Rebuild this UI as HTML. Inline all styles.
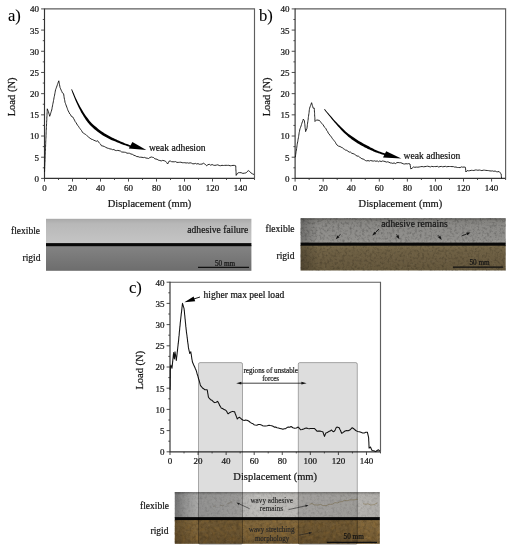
<!DOCTYPE html>
<html lang="en"><head><meta charset="utf-8"><title>Peel load vs displacement</title>
<style>
html,body{margin:0;padding:0;background:#fff;}
body{width:511px;height:550px;overflow:hidden;}
svg{display:block;}
text{font-family:"Liberation Serif",serif;fill:#161616;stroke:#161616;stroke-width:0.22px;}
.tk{font-size:9px;}
.al{font-size:10.5px;}
.an{font-size:9.6px;}
.pl{font-size:16.6px;fill:#000;stroke-width:0.1px;}
.sl{font-size:9.5px;}
.sb{font-size:7.2px;}
.sm{font-size:8.4px;fill:#262626;stroke:#262626;stroke-width:0.15px;}
.sr{font-size:8.8px;}
.st{fill:#1a1a1a;}
</style></head><body>
<svg width="511" height="550" viewBox="0 0 511 550">
<defs>
<filter id="nzD" x="0" y="0" width="100%" height="100%" color-interpolation-filters="sRGB"><feTurbulence type="fractalNoise" baseFrequency="0.4" numOctaves="3" seed="3"/><feColorMatrix type="matrix" values="0 0 0 0 0  0 0 0 0 0  0 0 0 0 0  1.6 0 0 0 -0.72"/></filter>
<filter id="nzL" x="0" y="0" width="100%" height="100%" color-interpolation-filters="sRGB"><feTurbulence type="fractalNoise" baseFrequency="0.3" numOctaves="3" seed="11"/><feColorMatrix type="matrix" values="0 0 0 0 1  0 0 0 0 1  0 0 0 0 1  -1.6 0 0 0 0.68"/></filter>
<filter id="nzO" x="0" y="0" width="100%" height="100%" color-interpolation-filters="sRGB"><feTurbulence type="fractalNoise" baseFrequency="0.22" numOctaves="4" seed="8"/><feColorMatrix type="matrix" values="0 0 0 0 0.80  0 0 0 0 0.56  0 0 0 0 0.18  2.2 0 0 0 -0.95"/></filter>
<filter id="nzK" x="0" y="0" width="100%" height="100%" color-interpolation-filters="sRGB"><feTurbulence type="fractalNoise" baseFrequency="0.3" numOctaves="4" seed="21"/><feColorMatrix type="matrix" values="0 0 0 0 0.18  0 0 0 0 0.13  0 0 0 0 0.06  0 2.2 0 0 -0.95"/></filter>
<linearGradient id="gaU" x1="0" y1="0" x2="0" y2="1"><stop offset="0" stop-color="#a9a9a9"/><stop offset="0.2" stop-color="#b8b8b8"/><stop offset="1" stop-color="#c5c5c5"/></linearGradient>
<linearGradient id="gaL" x1="0" y1="0" x2="0" y2="1"><stop offset="0" stop-color="#848484"/><stop offset="1" stop-color="#6d6d6d"/></linearGradient>
<linearGradient id="gbU" x1="0" y1="0" x2="0" y2="1"><stop offset="0" stop-color="#7c7b77"/><stop offset="0.3" stop-color="#8b8a87"/><stop offset="0.85" stop-color="#908f8c"/><stop offset="1" stop-color="#a09e99"/></linearGradient>
<linearGradient id="gbL" x1="0" y1="0" x2="0" y2="1"><stop offset="0" stop-color="#7a6b4a"/><stop offset="0.25" stop-color="#6e6044"/><stop offset="1" stop-color="#64573c"/></linearGradient>
<linearGradient id="gcU" x1="0" y1="0" x2="1" y2="0"><stop offset="0" stop-color="#929292"/><stop offset="0.05" stop-color="#a4a4a3"/><stop offset="0.3" stop-color="#b0afad"/><stop offset="0.4" stop-color="#bcbbb8"/><stop offset="0.6" stop-color="#bab8b5"/><stop offset="0.88" stop-color="#b5b3af"/><stop offset="1" stop-color="#aeaca8"/></linearGradient>
<linearGradient id="gcL" x1="0" y1="0" x2="0" y2="1"><stop offset="0" stop-color="#7f663c"/><stop offset="0.6" stop-color="#785f37"/><stop offset="1" stop-color="#6b5531"/></linearGradient>
<linearGradient id="gTop" x1="0" y1="0" x2="0" y2="1"><stop offset="0" stop-color="#000" stop-opacity="0.28"/><stop offset="1" stop-color="#000" stop-opacity="0"/></linearGradient>
<linearGradient id="gLeft" x1="0" y1="0" x2="1" y2="0"><stop offset="0" stop-color="#000" stop-opacity="0.22"/><stop offset="1" stop-color="#000" stop-opacity="0"/></linearGradient>
</defs>
<rect width="511" height="550" fill="#fff"/>

<g id="panelA">
<path d="M44.5,8.9 H254.5 V178.4" fill="none" stroke="#5e5e5e" stroke-width="1.15"/>
<path d="M44.5,8.4 V178.4 H254.5" fill="none" stroke="#333" stroke-width="1.15"/>
<path d="M44.50,178.4 v3.2 M58.50,178.4 v1.6 M72.50,178.4 v3.2 M86.50,178.4 v1.6 M100.50,178.4 v3.2 M114.50,178.4 v1.6 M128.50,178.4 v3.2 M142.50,178.4 v1.6 M156.50,178.4 v3.2 M170.50,178.4 v1.6 M184.50,178.4 v3.2 M198.50,178.4 v1.6 M212.50,178.4 v3.2 M226.50,178.4 v1.6 M240.50,178.4 v3.2 M254.50,178.4 v1.6 M44.5,178.40 h-3.4 M44.5,167.81 h-1.7 M44.5,157.21 h-3.4 M44.5,146.62 h-1.7 M44.5,136.03 h-3.4 M44.5,125.43 h-1.7 M44.5,114.84 h-3.4 M44.5,104.24 h-1.7 M44.5,93.65 h-3.4 M44.5,83.06 h-1.7 M44.5,72.46 h-3.4 M44.5,61.87 h-1.7 M44.5,51.28 h-3.4 M44.5,40.68 h-1.7 M44.5,30.09 h-3.4 M44.5,19.49 h-1.7 M44.5,8.90 h-3.4" stroke="#3a3a3a" stroke-width="0.9" fill="none"/>
<text x="44.5" y="190.6" text-anchor="middle" class="tk">0</text>
<text x="72.5" y="190.6" text-anchor="middle" class="tk">20</text>
<text x="100.5" y="190.6" text-anchor="middle" class="tk">40</text>
<text x="128.5" y="190.6" text-anchor="middle" class="tk">60</text>
<text x="156.5" y="190.6" text-anchor="middle" class="tk">80</text>
<text x="184.5" y="190.6" text-anchor="middle" class="tk">100</text>
<text x="212.5" y="190.6" text-anchor="middle" class="tk">120</text>
<text x="240.5" y="190.6" text-anchor="middle" class="tk">140</text>
<text x="38.9" y="181.8" text-anchor="end" class="tk">0</text>
<text x="38.9" y="160.6" text-anchor="end" class="tk">5</text>
<text x="38.9" y="139.4" text-anchor="end" class="tk">10</text>
<text x="38.9" y="118.2" text-anchor="end" class="tk">15</text>
<text x="38.9" y="97.1" text-anchor="end" class="tk">20</text>
<text x="38.9" y="75.9" text-anchor="end" class="tk">25</text>
<text x="38.9" y="54.7" text-anchor="end" class="tk">30</text>
<text x="38.9" y="33.5" text-anchor="end" class="tk">35</text>
<text x="38.9" y="12.3" text-anchor="end" class="tk">40</text>
<text x="149.5" y="207.0" text-anchor="middle" class="al">Displacement (mm)</text>
<text transform="translate(15.4,96.9) rotate(-90)" text-anchor="middle" class="al">Load (N)</text>
<polyline points="44.5,172.0 44.6,170.6 44.6,169.2 44.7,167.9 44.7,166.5 44.8,165.1 44.8,163.8 44.9,162.4 45.0,161.0 45.0,159.6 45.1,158.2 45.1,156.9 45.2,155.5 45.2,154.1 45.3,152.8 45.3,151.4 45.4,150.0 45.5,148.7 45.5,147.4 45.6,146.1 45.6,144.8 45.7,143.4 45.7,142.1 45.8,140.8 45.8,139.5 45.9,138.2 46.0,136.9 46.0,135.6 46.1,134.2 46.1,132.9 46.2,131.6 46.2,130.3 46.3,129.0 46.4,127.7 46.4,126.3 46.5,125.0 46.6,123.6 46.6,122.3 46.7,120.9 46.8,119.6 46.8,118.2 46.9,116.9 47.0,115.5 47.0,114.2 47.1,112.8 47.2,111.5 47.2,110.1 47.3,108.8 47.8,110.2 48.4,111.5 48.8,113.1 49.3,114.7 49.7,116.3 50.1,115.0 50.5,113.8 50.9,112.5 51.3,111.3 51.7,110.0 52.0,108.6 52.2,107.3 52.5,105.9 52.7,104.6 53.0,103.2 53.3,101.9 53.5,100.5 53.8,99.2 54.0,97.8 54.3,96.5 54.6,95.1 54.8,93.8 55.1,92.4 55.3,91.1 55.6,89.7 56.1,88.4 56.5,87.2 57.0,85.9 57.4,84.6 57.9,83.3 58.3,82.1 58.8,80.8 59.0,82.1 59.3,83.4 59.5,84.8 59.8,86.1 60.0,87.4 60.6,88.8 61.2,90.2 61.8,91.5 62.4,92.9 63.5,93.6 63.8,95.0 64.0,96.5 64.2,97.9 64.5,99.4 64.8,100.8 65.0,102.3 65.5,103.5 65.9,104.8 66.4,106.0 66.8,107.2 67.3,108.4 67.7,109.7 68.2,110.9 69.0,112.3 69.8,114.0 70.5,114.5 71.3,116.3 72.9,117.1 73.7,118.7 74.5,120.1 75.2,121.6 76.0,122.6 76.8,124.0 77.6,125.3 78.4,126.2 79.2,127.5 80.0,128.6 80.8,129.7 81.5,130.5 82.3,132.0 83.4,133.2 84.5,133.8 85.6,134.4 86.7,135.5 87.8,136.4 88.8,137.3 89.9,138.0 90.9,139.0 92.3,139.4 93.8,140.2 95.2,140.8 96.6,141.3 97.6,140.7 98.6,142.1 99.5,143.2 100.5,144.1 101.5,145.8 102.9,146.0 104.3,146.5 105.7,147.3 107.1,148.0 108.5,148.4 109.9,148.9 111.3,149.1 112.6,149.7 113.9,149.5 115.2,150.4 116.5,150.6 117.8,150.4 119.1,150.7 120.4,151.0 121.7,152.0 123.0,152.1 124.3,152.2 125.6,152.4 127.0,153.2 128.3,153.2 129.6,153.3 130.9,154.0 132.4,154.3 133.9,155.3 135.3,155.7 136.8,156.6 138.1,156.6 139.4,157.2 140.7,157.2 142.0,157.3 143.3,157.6 144.6,157.4 145.9,158.0 147.2,158.2 148.5,158.5 149.9,157.5 151.4,157.0 152.4,157.3 153.6,157.5 154.8,158.8 155.9,159.0 157.1,159.3 158.3,160.1 159.8,160.5 161.3,160.9 162.7,160.4 164.2,160.7 165.7,161.4 166.6,162.4 167.6,164.0 168.3,162.8 169.0,161.2 170.3,161.0 171.6,161.7 173.0,161.8 174.3,161.8 175.6,161.6 176.9,162.4 178.2,162.4 179.5,162.3 180.9,162.2 182.2,162.7 183.5,162.7 184.8,162.7 186.1,163.0 187.5,162.8 188.8,163.2 190.1,162.8 191.4,163.1 192.8,163.8 194.1,163.8 195.4,163.4 196.7,164.0 198.0,163.6 199.4,164.3 200.7,164.2 202.0,164.1 203.7,163.2 204.7,164.0 205.7,164.7 206.7,165.8 207.9,164.7 209.3,164.3 210.7,165.2 212.1,164.5 213.5,165.2 214.9,165.4 216.4,165.1 217.8,164.8 219.2,165.5 220.6,165.7 222.0,165.3 223.4,165.5 224.7,165.4 226.1,165.3 227.5,165.4 228.8,165.3 230.2,165.8 231.6,165.6 233.0,165.4 234.3,165.4 235.7,165.8 235.8,167.2 235.8,168.5 235.9,169.9 236.0,171.3 236.1,172.7 236.1,174.0 236.2,175.4 237.2,173.7 238.2,172.8 239.7,172.6 241.2,172.7 242.8,173.4 244.3,173.2 245.8,173.0 247.1,171.7 248.3,170.6 249.6,171.4 250.8,172.8 252.4,173.8 254.0,174.5" fill="none" stroke="#111" stroke-width="0.9" stroke-linejoin="round"/>
<polygon points="71.2,89.6 71.7,90.8 72.3,92.5 73.1,94.5 73.9,96.6 74.8,98.7 75.6,100.7 76.4,102.4 77.1,104.1 77.9,105.8 78.7,107.5 79.5,109.1 80.4,110.8 81.2,112.4 82.2,114.0 83.1,115.6 84.0,117.1 85.0,118.6 85.9,120.0 86.9,121.3 87.8,122.5 88.7,123.6 89.7,124.7 90.7,125.7 91.8,126.8 93.1,128.0 94.4,129.2 95.8,130.3 97.3,131.5 98.7,132.6 100.1,133.6 101.5,134.5 102.9,135.4 104.3,136.3 105.7,137.0 107.1,137.8 108.5,138.5 109.9,139.2 111.3,139.9 112.7,140.5 114.1,141.1 115.5,141.6 116.9,142.2 118.3,142.8 119.7,143.3 121.1,143.9 122.6,144.4 123.9,144.9 125.2,145.3 126.4,145.8 127.7,146.2 128.9,146.6 130.0,146.9 130.9,147.2 131.5,147.5 132.1,145.9 131.4,145.7 130.5,145.4 129.4,145.0 128.3,144.6 127.0,144.1 125.8,143.7 124.6,143.2 123.3,142.6 121.9,142.0 120.5,141.4 119.1,140.8 117.7,140.2 116.4,139.6 115.0,139.0 113.7,138.3 112.4,137.7 111.0,137.0 109.7,136.3 108.3,135.6 107.0,134.8 105.7,134.0 104.3,133.2 103.0,132.3 101.7,131.4 100.3,130.4 98.9,129.4 97.5,128.3 96.1,127.1 94.8,126.0 93.6,125.0 92.5,123.9 91.5,122.9 90.6,121.9 89.7,120.9 88.8,119.8 87.9,118.6 86.9,117.3 85.9,115.9 84.9,114.4 83.9,112.9 83.0,111.4 82.0,109.8 81.1,108.3 80.2,106.7 79.3,105.1 78.5,103.5 77.6,101.8 76.8,100.1 75.9,98.3 75.0,96.2 74.1,94.1 73.2,92.1 72.5,90.4 72.0,89.2" fill="#000"/>
<polygon points="132.4,141.9 146.3,149.9 128.8,148.6" fill="#000"/>
<text x="148.9" y="151.3" class="an">weak adhesion</text>
<text x="8" y="21.3" class="pl">a)</text>
<rect x="46" y="218.8" width="205.4" height="25" fill="url(#gaU)"/>
<rect x="46" y="245" width="205.4" height="25.8" fill="url(#gaL)"/>
<rect x="46" y="243.1" width="205.4" height="3.1" fill="#080808"/>
<text x="11" y="234.4" class="sl">flexible</text>
<text x="22.5" y="261" class="sl">rigid</text>
<text x="248.3" y="233" text-anchor="end" class="an st">adhesive failure</text>
<path d="M198,267.3 H249" stroke="#111" stroke-width="1.2"/>
<text x="225" y="265.5" text-anchor="middle" class="sb">50 mm</text>
</g>
<g id="panelB">
<path d="M295.1,8.9 H505.6 V178.4" fill="none" stroke="#5e5e5e" stroke-width="1.15"/>
<path d="M295.1,8.4 V178.4 H505.6" fill="none" stroke="#333" stroke-width="1.15"/>
<path d="M295.10,178.4 v3.2 M309.13,178.4 v1.6 M323.17,178.4 v3.2 M337.20,178.4 v1.6 M351.23,178.4 v3.2 M365.27,178.4 v1.6 M379.30,178.4 v3.2 M393.33,178.4 v1.6 M407.37,178.4 v3.2 M421.40,178.4 v1.6 M435.43,178.4 v3.2 M449.47,178.4 v1.6 M463.50,178.4 v3.2 M477.53,178.4 v1.6 M491.57,178.4 v3.2 M505.60,178.4 v1.6 M295.1,178.40 h-3.4 M295.1,167.81 h-1.7 M295.1,157.21 h-3.4 M295.1,146.62 h-1.7 M295.1,136.03 h-3.4 M295.1,125.43 h-1.7 M295.1,114.84 h-3.4 M295.1,104.24 h-1.7 M295.1,93.65 h-3.4 M295.1,83.06 h-1.7 M295.1,72.46 h-3.4 M295.1,61.87 h-1.7 M295.1,51.28 h-3.4 M295.1,40.68 h-1.7 M295.1,30.09 h-3.4 M295.1,19.49 h-1.7 M295.1,8.90 h-3.4" stroke="#3a3a3a" stroke-width="0.9" fill="none"/>
<text x="295.1" y="190.6" text-anchor="middle" class="tk">0</text>
<text x="323.2" y="190.6" text-anchor="middle" class="tk">20</text>
<text x="351.2" y="190.6" text-anchor="middle" class="tk">40</text>
<text x="379.3" y="190.6" text-anchor="middle" class="tk">60</text>
<text x="407.4" y="190.6" text-anchor="middle" class="tk">80</text>
<text x="435.4" y="190.6" text-anchor="middle" class="tk">100</text>
<text x="463.5" y="190.6" text-anchor="middle" class="tk">120</text>
<text x="491.6" y="190.6" text-anchor="middle" class="tk">140</text>
<text x="289.5" y="181.8" text-anchor="end" class="tk">0</text>
<text x="289.5" y="160.6" text-anchor="end" class="tk">5</text>
<text x="289.5" y="139.4" text-anchor="end" class="tk">10</text>
<text x="289.5" y="118.2" text-anchor="end" class="tk">15</text>
<text x="289.5" y="97.1" text-anchor="end" class="tk">20</text>
<text x="289.5" y="75.9" text-anchor="end" class="tk">25</text>
<text x="289.5" y="54.7" text-anchor="end" class="tk">30</text>
<text x="289.5" y="33.5" text-anchor="end" class="tk">35</text>
<text x="289.5" y="12.3" text-anchor="end" class="tk">40</text>
<text x="400.4" y="207.0" text-anchor="middle" class="al">Displacement (mm)</text>
<text transform="translate(270.0,96.9) rotate(-90)" text-anchor="middle" class="al">Load (N)</text>
<polyline points="295.3,157.2 295.5,155.8 295.7,154.3 295.9,152.9 296.1,151.4 296.4,150.0 296.6,148.6 296.8,147.1 297.0,145.7 297.2,144.4 297.4,143.1 297.7,141.8 297.9,140.5 298.1,139.2 298.4,137.8 298.6,136.5 298.8,135.2 299.0,133.9 299.2,132.6 299.5,131.3 299.7,130.0 300.1,128.6 300.6,127.3 301.1,125.9 301.5,124.5 301.9,123.2 302.4,121.8 302.9,120.5 303.3,119.1 304.4,120.7 304.5,122.1 304.7,123.4 304.9,124.8 305.0,126.2 305.1,127.5 305.3,128.9 305.5,130.2 305.6,131.6 306.2,130.1 306.9,128.5 307.1,127.1 307.3,125.8 307.4,124.4 307.6,123.1 307.8,121.7 308.0,120.4 308.2,119.0 308.3,117.7 308.5,116.3 308.7,115.0 308.9,113.6 309.1,112.3 309.2,110.9 309.4,109.6 309.6,108.2 310.1,106.8 310.6,105.5 311.1,104.1 311.6,102.7 312.0,104.1 312.4,105.5 312.8,106.8 313.2,108.2 314.3,108.2 314.4,109.5 314.4,110.9 314.5,112.2 314.6,113.5 314.6,114.8 314.7,116.2 314.8,117.5 314.9,118.8 314.9,120.2 315.0,121.5 316.6,119.9 318.0,120.2 319.4,120.4 320.3,121.5 321.2,122.7 322.1,123.8 323.1,124.8 324.2,126.8 325.2,127.7 326.0,128.8 326.8,130.6 327.5,131.3 328.3,133.2 329.1,134.0 329.9,135.2 330.7,136.1 331.5,137.2 332.2,138.3 333.0,139.3 333.8,140.3 334.6,141.3 335.4,142.3 336.1,143.8 336.9,144.9 338.5,146.1 340.1,146.5 341.2,147.3 342.3,147.5 343.4,148.8 344.6,149.4 345.7,150.2 346.8,150.3 347.9,151.2 349.2,152.1 350.5,152.1 351.8,153.3 353.1,153.6 354.4,154.2 355.7,155.1 357.0,156.1 358.3,156.1 359.6,157.2 360.8,157.9 361.9,158.8 363.1,159.0 364.2,159.6 365.4,160.5 366.7,160.9 368.0,160.6 369.4,161.0 370.7,160.5 372.0,160.9 373.3,161.1 374.6,160.8 375.9,161.3 377.2,160.9 378.5,161.7 379.8,160.9 381.1,161.6 382.4,161.0 383.7,161.2 385.0,161.5 386.3,162.1 387.6,161.8 388.9,162.2 390.2,162.9 391.5,163.0 392.8,163.4 394.1,162.9 395.4,163.6 396.8,162.7 398.1,162.5 399.4,162.7 400.7,162.7 402.0,163.2 403.3,163.8 404.6,164.0 406.0,163.7 407.3,163.9 408.6,163.6 410.0,164.0 410.3,165.6 410.5,167.3 410.8,168.9 412.1,168.2 413.4,167.0 414.8,167.3 416.3,167.1 417.8,167.2 419.2,167.0 420.6,166.7 422.1,166.5 423.6,166.8 425.0,166.6 426.4,166.4 427.7,166.2 429.1,166.6 430.5,166.9 431.8,166.3 433.2,166.7 434.5,166.5 435.9,166.6 437.3,166.3 438.6,167.0 440.0,166.6 441.3,166.4 442.7,166.8 444.0,166.6 445.3,166.3 446.7,166.8 448.0,166.5 449.4,166.5 450.7,166.5 452.0,166.6 453.4,166.6 454.7,167.1 456.0,167.0 457.4,167.5 458.7,167.5 460.1,167.6 461.4,166.9 462.7,167.2 464.1,167.0 465.4,167.3 465.6,168.9 465.7,170.4 465.9,172.0 467.1,170.6 468.5,170.8 469.8,170.7 471.2,170.3 472.5,170.4 473.9,170.5 475.2,170.0 476.6,170.0 477.9,170.3 479.2,170.0 480.6,170.3 481.9,170.6 483.2,170.2 484.6,170.2 485.9,170.4 487.2,170.5 488.5,170.6 489.9,170.9 491.2,171.0 492.5,170.9 493.8,171.3 495.1,171.0 496.5,171.7 497.8,171.8 499.1,171.5 500.1,172.8 501.1,173.7 501.3,175.3 501.4,176.8 501.6,178.4" fill="none" stroke="#111" stroke-width="0.9" stroke-linejoin="round"/>
<polygon points="324.1,109.5 324.7,110.3 325.6,111.4 326.7,112.7 327.9,114.2 329.1,115.7 330.2,117.1 331.3,118.4 332.3,119.7 333.4,121.1 334.6,122.4 335.8,123.8 337.0,125.2 338.3,126.7 339.8,128.3 341.2,129.9 342.7,131.4 344.2,132.9 345.7,134.3 347.1,135.6 348.6,136.9 350.1,138.0 351.5,139.2 353.0,140.2 354.5,141.3 356.0,142.3 357.4,143.2 358.9,144.1 360.4,145.0 361.9,145.8 363.4,146.6 364.9,147.4 366.4,148.1 367.9,148.9 369.5,149.6 370.9,150.2 372.3,150.8 373.6,151.4 374.9,151.9 376.1,152.4 377.3,152.8 378.4,153.2 379.6,153.6 380.8,154.0 382.1,154.4 383.4,154.8 384.6,155.1 385.5,155.4 386.2,155.6 386.8,154.0 386.0,153.8 385.1,153.5 383.9,153.1 382.7,152.7 381.4,152.2 380.2,151.8 379.1,151.4 378.0,150.9 376.9,150.4 375.7,149.9 374.5,149.4 373.3,148.8 371.9,148.1 370.5,147.4 369.1,146.6 367.6,145.8 366.1,145.0 364.6,144.2 363.2,143.4 361.7,142.6 360.3,141.8 358.8,140.9 357.4,140.1 355.9,139.1 354.5,138.1 353.0,137.1 351.5,136.1 350.1,135.0 348.6,133.9 347.1,132.7 345.6,131.4 344.1,130.0 342.6,128.5 341.0,127.0 339.6,125.6 338.2,124.2 336.9,122.8 335.6,121.5 334.4,120.2 333.3,118.9 332.1,117.6 331.0,116.3 329.8,115.0 328.6,113.6 327.4,112.2 326.3,110.9 325.4,109.7 324.7,108.9" fill="#000"/>
<polygon points="386.2,151.3 401.3,158.4 383.0,157.6" fill="#000"/>
<text x="403.6" y="159.4" class="an">weak adhesion</text>
<text x="259" y="21.3" class="pl">b)</text>
<rect x="300.6" y="218.2" width="205.1" height="25" fill="url(#gbU)"/>
<rect x="300.6" y="218.2" width="205.1" height="25" filter="url(#nzD)" opacity="0.32"/>
<rect x="300.6" y="218.2" width="205.1" height="25" filter="url(#nzL)" opacity="0.1"/>
<rect x="300.6" y="245" width="205.1" height="25.5" fill="url(#gbL)"/>
<rect x="300.6" y="245" width="205.1" height="25.5" filter="url(#nzD)" opacity="0.3"/>
<rect x="300.6" y="245" width="205.1" height="25.5" filter="url(#nzL)" opacity="0.08"/>
<rect x="300.6" y="218.2" width="18" height="52.3" fill="url(#gLeft)"/>
<rect x="300.6" y="218.2" width="205.1" height="2.6" fill="url(#gTop)"/>
<rect x="300.6" y="242.6" width="205.1" height="3.1" fill="#080808"/>
<text x="265.5" y="231.9" class="sl">flexible</text>
<text x="276.5" y="258.8" class="sl">rigid</text>
<text x="414.5" y="226.9" text-anchor="middle" class="an st">adhesive remains</text>
<path d="M453,267.2 H503.2" stroke="#111" stroke-width="1.2"/>
<text x="479.5" y="264.6" text-anchor="middle" class="sb">50 mm</text>
<path d="M340.3,234.3 L338.5,236.3" stroke="#111" stroke-width="0.85" fill="none"/><polygon points="335.8,239.3 337.4,235.4 339.5,237.3" fill="#111"/>
<path d="M379.0,229.0 L375.2,232.8" stroke="#111" stroke-width="0.85" fill="none"/><polygon points="372.4,235.6 374.2,231.8 376.2,233.8" fill="#111"/>
<path d="M396.4,234.4 L397.3,235.8" stroke="#111" stroke-width="0.85" fill="none"/><polygon points="399.4,239.2 396.1,236.6 398.5,235.1" fill="#111"/>
<path d="M438.2,235.4 L439.2,236.7" stroke="#111" stroke-width="0.85" fill="none"/><polygon points="441.7,239.8 438.1,237.5 440.3,235.8" fill="#111"/>
<path d="M461.6,236.0 L466.8,233.9" stroke="#111" stroke-width="0.85" fill="none"/><polygon points="470.5,232.4 467.3,235.2 466.3,232.6" fill="#111"/>
</g>
<g id="panelC">
<path d="M170,282.2 H380.5 V451.8" fill="none" stroke="#5e5e5e" stroke-width="1.15"/>
<path d="M170,281.7 V451.8 H380.5" fill="none" stroke="#333" stroke-width="1.15"/>
<path d="M170.00,451.8 v3.2 M184.03,451.8 v1.6 M198.07,451.8 v3.2 M212.10,451.8 v1.6 M226.13,451.8 v3.2 M240.17,451.8 v1.6 M254.20,451.8 v3.2 M268.23,451.8 v1.6 M282.27,451.8 v3.2 M296.30,451.8 v1.6 M310.33,451.8 v3.2 M324.37,451.8 v1.6 M338.40,451.8 v3.2 M352.43,451.8 v1.6 M366.47,451.8 v3.2 M380.50,451.8 v1.6 M170,451.80 h-3.4 M170,441.20 h-1.7 M170,430.60 h-3.4 M170,420.00 h-1.7 M170,409.40 h-3.4 M170,398.80 h-1.7 M170,388.20 h-3.4 M170,377.60 h-1.7 M170,367.00 h-3.4 M170,356.40 h-1.7 M170,345.80 h-3.4 M170,335.20 h-1.7 M170,324.60 h-3.4 M170,314.00 h-1.7 M170,303.40 h-3.4 M170,292.80 h-1.7 M170,282.20 h-3.4" stroke="#3a3a3a" stroke-width="0.9" fill="none"/>
<text x="170.0" y="464.0" text-anchor="middle" class="tk">0</text>
<text x="198.1" y="464.0" text-anchor="middle" class="tk">20</text>
<text x="226.1" y="464.0" text-anchor="middle" class="tk">40</text>
<text x="254.2" y="464.0" text-anchor="middle" class="tk">60</text>
<text x="282.3" y="464.0" text-anchor="middle" class="tk">80</text>
<text x="310.3" y="464.0" text-anchor="middle" class="tk">100</text>
<text x="338.4" y="464.0" text-anchor="middle" class="tk">120</text>
<text x="366.5" y="464.0" text-anchor="middle" class="tk">140</text>
<text x="164.4" y="455.2" text-anchor="end" class="tk">0</text>
<text x="164.4" y="434.0" text-anchor="end" class="tk">5</text>
<text x="164.4" y="412.8" text-anchor="end" class="tk">10</text>
<text x="164.4" y="391.6" text-anchor="end" class="tk">15</text>
<text x="164.4" y="370.4" text-anchor="end" class="tk">20</text>
<text x="164.4" y="349.2" text-anchor="end" class="tk">25</text>
<text x="164.4" y="328.0" text-anchor="end" class="tk">30</text>
<text x="164.4" y="306.8" text-anchor="end" class="tk">35</text>
<text x="164.4" y="285.6" text-anchor="end" class="tk">40</text>
<text x="275.2" y="480.4" text-anchor="middle" class="al">Displacement (mm)</text>
<text transform="translate(142.9,370.2) rotate(-90)" text-anchor="middle" class="al">Load (N)</text>
<polyline points="170.1,390.0 170.1,388.6 170.1,387.3 170.2,385.9 170.2,384.5 170.2,383.1 170.2,381.8 170.2,380.4 170.2,379.0 170.3,377.7 170.3,376.3 170.3,374.9 170.3,373.6 170.3,372.2 170.3,370.8 170.4,369.4 170.4,368.1 170.4,366.7 170.9,365.1 171.4,366.6 172.0,368.2 172.1,366.9 172.3,365.6 172.4,364.3 172.5,363.0 172.7,361.7 172.8,360.4 172.9,359.1 173.1,357.8 173.2,356.5 173.3,355.2 173.5,353.9 173.6,352.6 173.8,354.2 174.0,355.8 174.2,357.3 174.4,358.9 174.5,357.5 174.6,356.1 174.8,354.6 174.9,353.2 175.0,351.8 175.2,353.2 175.4,354.7 175.7,356.1 175.9,357.5 176.1,359.0 176.3,360.4 176.5,359.1 176.6,357.8 176.8,356.4 176.9,355.1 177.1,353.8 177.2,352.5 177.4,351.1 177.5,349.8 177.7,348.5 177.8,347.2 178.0,345.8 178.1,344.5 178.3,343.2 178.4,341.9 178.6,340.6 178.7,339.3 178.8,338.0 178.9,336.7 179.1,335.4 179.2,334.1 179.3,332.8 179.4,331.4 179.6,330.1 179.7,328.8 179.8,327.5 180.0,326.2 180.1,324.9 180.2,323.6 180.3,322.3 180.5,321.0 180.6,319.7 180.8,318.3 180.9,317.0 181.1,315.6 181.2,314.2 181.4,312.9 181.6,311.5 181.7,310.1 181.9,308.8 182.0,307.4 182.2,306.0 182.3,304.7 182.5,303.3 182.9,304.7 183.3,306.1 183.7,307.4 184.1,308.8 184.2,310.2 184.4,311.5 184.5,312.9 184.6,314.2 184.8,315.6 184.9,316.9 185.0,318.3 185.2,319.6 185.3,321.0 185.4,322.3 185.6,323.7 185.7,325.0 185.8,326.4 186.0,327.7 186.1,329.1 186.3,330.4 186.4,331.8 186.6,333.1 186.8,334.5 187.0,335.8 187.1,337.2 187.3,338.5 187.5,339.8 187.6,341.2 187.8,342.5 188.0,343.9 188.2,345.2 188.3,346.6 188.5,347.9 188.8,349.3 189.1,350.6 189.4,352.0 189.7,353.4 190.8,351.8 191.0,353.3 191.3,354.7 191.5,356.2 191.7,357.6 191.9,359.1 192.2,360.5 192.4,362.0 193.0,363.3 193.6,364.7 194.2,366.0 194.8,367.3 195.4,368.7 196.0,370.0 196.4,371.2 196.8,372.5 197.1,373.8 197.5,375.0 197.9,376.2 198.2,377.5 198.6,378.8 199.0,380.0 199.4,381.4 199.8,382.8 200.1,384.2 200.5,385.6 201.5,386.7 202.5,388.0 203.6,388.7 204.7,389.7 207.2,389.8 207.5,391.3 207.7,392.8 208.0,394.3 208.2,395.8 208.5,397.3 209.6,398.7 210.6,399.7 212.0,400.3 213.3,401.7 214.7,402.6 216.1,402.2 217.6,401.4 218.3,402.5 219.0,403.8 219.7,405.6 220.4,406.4 221.1,407.9 222.6,408.5 224.1,409.6 225.8,410.2 226.6,411.3 227.4,412.8 228.2,413.8 229.6,412.7 230.9,412.1 232.3,411.4 234.6,411.8 235.1,413.2 235.7,414.7 236.2,416.1 236.8,417.6 237.3,419.0 238.3,417.9 239.3,417.3 240.5,418.1 241.6,419.2 242.8,420.0 244.2,420.4 245.5,420.1 246.9,420.2 248.1,420.8 249.3,421.5 250.5,422.6 251.7,423.2 252.8,423.6 254.0,424.7 255.2,425.1 256.8,425.2 258.4,424.5 260.0,424.6 261.3,424.9 262.7,425.8 264.0,426.0 265.7,425.9 267.3,425.8 269.0,425.3 270.3,425.6 271.7,425.8 273.0,426.3 274.3,427.1 275.7,427.1 277.0,427.7 278.5,428.0 279.9,428.4 281.4,428.8 282.9,429.3 284.3,428.8 285.6,428.7 287.0,427.6 288.4,427.0 289.7,427.3 291.1,426.5 292.9,427.7 294.6,428.2 296.4,428.0 298.2,427.0 299.4,428.3 300.5,429.8 302.1,429.6 303.6,429.1 305.2,428.2 306.5,428.0 307.9,428.5 309.2,428.7 310.6,428.6 311.9,428.5 313.3,428.4 314.6,428.6 315.8,429.8 317.0,431.2 318.4,431.1 319.9,431.1 321.4,431.6 322.8,431.7 323.4,433.3 323.9,434.8 324.5,436.4 325.2,434.6 325.9,432.9 327.3,432.5 328.7,431.6 330.1,431.1 331.5,430.0 332.6,431.2 333.8,431.7 334.6,430.9 335.4,429.4 336.1,427.8 336.9,427.0 339.2,427.7 339.8,429.3 340.4,430.2 341.0,431.7 341.6,433.3 342.8,432.7 343.9,431.8 345.1,431.0 346.7,430.6 348.2,430.7 349.8,430.0 351.0,428.9 352.2,427.7 353.4,428.5 354.5,429.4 355.7,430.5 357.4,431.4 359.2,431.7 360.9,432.3 362.7,432.9 364.3,432.9 365.8,432.3 367.4,432.2 367.7,433.6 368.0,434.9 368.3,436.2 368.6,437.6 368.7,438.9 368.7,440.2 368.8,441.5 368.9,442.9 368.9,444.2 369.0,445.5 369.0,446.8 369.1,448.1 370.5,447.0 371.3,449.1 372.1,450.5 373.9,450.7 375.6,451.6 377.1,450.5 378.5,449.8 379.9,451.2" fill="none" stroke="#111" stroke-width="1.05" stroke-linejoin="round"/>
<text x="129" y="292.6" class="pl">c)</text>
<text x="203.5" y="297.6" class="an">higher max peel load</text>
<path d="M200,297 L190,300.2" stroke="#000" stroke-width="0.9"/>
<polygon points="184.4,302.2 193.6,296.4 195.2,301.2" fill="#000"/>
<rect x="174.8" y="492" width="205" height="25.8" fill="url(#gcU)"/>
<rect x="174.8" y="492" width="205" height="25.8" filter="url(#nzD)" opacity="0.16"/>
<rect x="174.8" y="492" width="205" height="25.8" filter="url(#nzL)" opacity="0.2"/>
<rect x="174.8" y="520" width="205" height="23.8" fill="url(#gcL)"/>
<rect x="174.8" y="520" width="205" height="23.8" filter="url(#nzO)" opacity="0.2"/>
<rect x="174.8" y="520" width="205" height="23.8" filter="url(#nzK)" opacity="0.3"/>
<rect x="174.8" y="520" width="205" height="23.8" filter="url(#nzL)" opacity="0.12"/>
<rect x="174.8" y="492" width="205" height="3" fill="url(#gTop)"/>
<rect x="174.8" y="492" width="22" height="51.8" fill="url(#gLeft)"/>
<rect x="174.8" y="517.1" width="205" height="3.0" fill="#080808"/>
<path d="M213,506.3 l1.5,-0.3 l1.2,0.4 m4,-0.6 l1.2,-0.8 l1.2,0.9 l1.6,-0.4 m3,-1 l1.2,-1.2 l1.6,-0.4 l1.2,-1 l1.6,0.2" stroke="#6b6350" stroke-width="0.55" fill="none" opacity="0.65"/>
<path d="M309.4,504.3 L312,503.6 L314.5,504.9 L318,505.1 L320.5,504.4 L323,505.6 L326.7,505.5 L329,504.4 L332.5,504.2 L335,502.6 L337.5,503 L339.6,501.9 L342.5,501.6 L344.5,500.3 L347,500.8 L350.3,499.8 L354,499.9 L357.9,499.2 M363,503.6 L365.4,504.3 L368,503.8 L370.8,505.1 L374,504.6 L377.3,503" stroke="#7a6a3c" stroke-width="0.6" fill="none" opacity="0.75"/>
<text x="140" y="508.8" class="sl">flexible</text>
<text x="150.5" y="534" class="sl">rigid</text>
<text x="250.4" y="502.5" class="sm" textLength="42.6" lengthAdjust="spacingAndGlyphs">wavy adhesive</text>
<text x="259.7" y="510.6" class="sm" textLength="23.4" lengthAdjust="spacingAndGlyphs">remains</text>
<text x="248.7" y="532.4" class="sm" textLength="45.8" lengthAdjust="spacingAndGlyphs">wavy stretching</text>
<text x="254.9" y="540.8" class="sm" textLength="34.3" lengthAdjust="spacingAndGlyphs">morphology</text>
<path d="M326.8,542.3 H377" stroke="#111" stroke-width="1.2"/>
<text x="353.7" y="539.4" text-anchor="middle" class="sb">50 mm</text>
<path d="M249.6,508.7 L239.3,503.9" stroke="#222" stroke-width="0.6" fill="none"/><polygon points="236.4,502.6 239.8,502.9 238.8,504.9" fill="#222"/>
<path d="M288.5,509.6 L305.5,505.9" stroke="#222" stroke-width="0.6" fill="none"/><polygon points="308.6,505.2 305.7,507.0 305.2,504.8" fill="#222"/>
<path d="M298.9,535.2 L309.0,533.1" stroke="#222" stroke-width="0.6" fill="none"/><polygon points="312.1,532.5 309.2,534.2 308.7,532.1" fill="#222"/>
<rect x="198.5" y="362.6" width="44" height="181.6" rx="1.5" fill="#000" fill-opacity="0.135" stroke="#000" stroke-opacity="0.3" stroke-width="1"/>
<rect x="298.3" y="362.6" width="59" height="181.6" rx="1.5" fill="#000" fill-opacity="0.135" stroke="#000" stroke-opacity="0.3" stroke-width="1"/>
<text x="243.4" y="373" class="sr" textLength="54.6" lengthAdjust="spacingAndGlyphs">regions of unstable</text>
<text x="262.2" y="381.2" class="sr" textLength="16.8" lengthAdjust="spacingAndGlyphs">forces</text>
<path d="M240,383.2 H302" stroke="#111" stroke-width="0.8"/>
<polygon points="236.2,383.2 241.4,381.8 241.4,384.6" fill="#111"/>
<polygon points="306.6,383.2 301.4,381.8 301.4,384.6" fill="#111"/>
</g>
</svg>
</body></html>
